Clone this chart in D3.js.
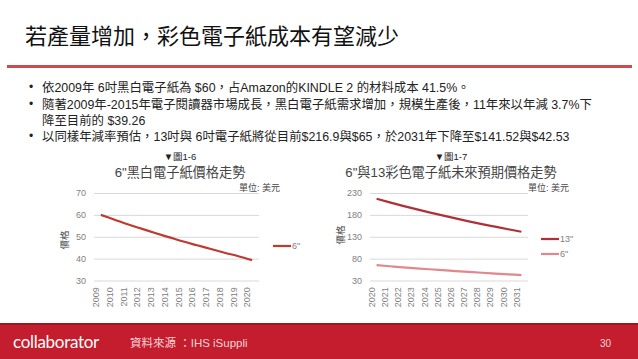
<!DOCTYPE html>
<html><head><meta charset="utf-8">
<script src="https://cdn.jsdelivr.net/npm/d3@7"></script>
<style>
html,body{margin:0;padding:0;background:#fff;}
svg text{font-family:"Liberation Sans","Noto Sans CJK TC","Noto Sans CJK SC",sans-serif;}
</style></head>
<body>
<script>
const pageTitle = "若產量增加，彩色電子紙成本有望減少";
const bullets = [
  ["依2009年 6吋黑白電子紙為 $60，占Amazon的KINDLE 2 的材料成本 41.5%。"],
  ["隨著2009年-2015年電子閱讀器市場成長，黑白電子紙需求增加，規模生產後，11年來以年減 3.7%下", "降至目前的 $39.26"],
  ["以同樣年減率預估，13吋與 6吋電子紙將從目前$216.9與$65，於2031年下降至$141.52與$42.53"]
];

const years1 = ["2009","2010","2011","2012","2013","2014","2015","2016","2017","2018","2019","2020"];
const bw6 = [60, 57.8, 55.6, 53.6, 51.6, 49.7, 47.8, 46.1, 44.4, 42.7, 41.1, 39.3];
const ticks1 = [30, 40, 50, 60, 70];

const years2 = ["2020","2021","2022","2023","2024","2025","2026","2027","2028","2029","2030","2031"];
const color13 = [216.9, 208.6, 200.7, 193.1, 185.7, 178.7, 171.9, 165.3, 159.0, 153.0, 147.1, 141.5];
const color6 = [65, 62.6, 60.2, 57.9, 55.7, 53.6, 51.6, 49.6, 47.7, 45.9, 44.2, 42.5];
const ticks2 = [30, 80, 130, 180, 230];

const W = 638, H = 359;
const svg = d3.select("body").append("svg").attr("width", W).attr("height", H);

// Title
svg.append("text").attr("x", 25).attr("y", 44).attr("font-size", 22).attr("fill", "#111")
  .attr("style", "font-family:'Noto Sans CJK TC',sans-serif").text(pageTitle);
svg.append("rect").attr("x", 7).attr("y", 65).attr("width", 625).attr("height", 3).attr("fill", "#c94d50");

// Bullets
const lineYs = [[87], [104, 120], [136]];
bullets.forEach((b, i) => {
  svg.append("text").attr("x", 29).attr("y", lineYs[i][0] + 4).attr("font-size", 12).attr("fill", "#222").text("•");
  b.forEach((ln, j) => {
    svg.append("text").attr("x", 42).attr("y", lineYs[i][j] + 4.5).attr("font-size", 12.4).attr("fill", "#222").text(ln);
  });
});

function drawChart(opt) {
  const g = svg.append("g");
  const x = d3.scalePoint().domain(opt.years).range([opt.x0, opt.x1]).padding(0.5);
  const y = d3.scaleLinear().domain([opt.ticks[0], opt.ticks[opt.ticks.length - 1]]).range([280.5, 193]);

  g.append("text").attr("x", opt.cx).attr("y", 156).attr("text-anchor", "middle").attr("dominant-baseline", "central")
    .attr("font-size", 9.5).attr("fill", "#222").text(opt.fig);
  g.append("text").attr("x", opt.cx).attr("y", 172).attr("text-anchor", "middle").attr("dominant-baseline", "central")
    .attr("font-size", 13.2).attr("fill", "#444").text(opt.title);
  g.append("text").attr("x", opt.unitX).attr("y", 188).attr("text-anchor", "end").attr("dominant-baseline", "central")
    .attr("font-size", 9).attr("fill", "#444").text("單位: 美元");

  // grid
  const yAxis = d3.axisLeft(y).tickValues(opt.ticks).tickSize(-(opt.x1 - opt.x0)).tickPadding(8);
  const ya = g.append("g").attr("transform", `translate(${opt.x0},0)`).call(yAxis);
  ya.select(".domain").remove();
  ya.selectAll("line").attr("stroke", "#d9d9d9");
  ya.selectAll("text").attr("font-size", 9).attr("fill", "#808080");

  const xAxis = d3.axisBottom(x).tickSize(0).tickPadding(4);
  const xa = g.append("g").attr("transform", `translate(0,280.5)`).call(xAxis);
  xa.select(".domain").remove();
  xa.selectAll("text").attr("font-size", 9).attr("fill", "#808080")
    .attr("transform", "rotate(-90)").attr("text-anchor", "end").attr("dx", "-0.3em").attr("dy", "-0.25em")
    .attr("x", -4).attr("y", 0);

  g.append("text").attr("transform", `translate(${opt.yLabX},${opt.yLabY}) rotate(-90)`)
    .attr("text-anchor", "middle").attr("dominant-baseline", "central").attr("font-size", 9.5).attr("fill", "#444").text("價格");

  const line = d3.line().x((d, i) => x(opt.years[i])).y(d => y(d)).curve(d3.curveMonotoneX);
  opt.series.forEach(s => {
    g.append("path").datum(s.values).attr("d", line).attr("fill", "none")
      .attr("stroke", s.color).attr("stroke-width", 2.2);
    g.append("line").attr("x1", opt.legX).attr("x2", opt.legX + 18).attr("y1", s.ly).attr("y2", s.ly)
      .attr("stroke", s.color).attr("stroke-width", 2.2);
    g.append("text").attr("x", opt.legX + 19).attr("y", s.ly).attr("dominant-baseline", "central")
      .attr("font-size", 9).attr("fill", "#808080").text(s.name);
  });
}

drawChart({
  years: years1, ticks: ticks1, x0: 94, x1: 259, cx: 180, fig: "▼圖1-6", title: "6\"黑白電子紙價格走勢",
  unitX: 280, yLabX: 64, yLabY: 240, legX: 273,
  series: [{ name: "6\"", values: bw6, color: "#c0392f", ly: 246 }]
});
drawChart({
  years: years2, ticks: ticks2, x0: 370, x1: 528, cx: 451, fig: "▼圖1-7", title: "6\"與13彩色電子紙未來預期價格走勢",
  unitX: 569, yLabX: 340, yLabY: 235, legX: 541,
  series: [
    { name: "13\"", values: color13, color: "#b0303a", ly: 239 },
    { name: "6\"", values: color6, color: "#e2878d", ly: 254 }
  ]
});

// Footer
svg.append("rect").attr("x", 0).attr("y", 324).attr("width", W).attr("height", H - 324).attr("fill", "#c41d2d");
svg.append("rect").attr("x", 0).attr("y", 323).attr("width", W).attr("height", 2).attr("fill", "#9a1822");
svg.append("text").attr("x", 13).attr("y", 348).attr("font-size", 17).attr("fill", "#fff")
  .attr("style", "font-family:'Lato','Open Sans',sans-serif").attr("letter-spacing", -0.3).text("collaborator");
svg.append("text").attr("x", 130).attr("y", 347).attr("font-size", 11.5).attr("fill", "#f3d6d8").text("資料來源 ：IHS iSuppli");
svg.append("text").attr("x", 600).attr("y", 347).attr("font-size", 10).attr("fill", "#f3d6d8").text("30");
</script>
</body></html>
